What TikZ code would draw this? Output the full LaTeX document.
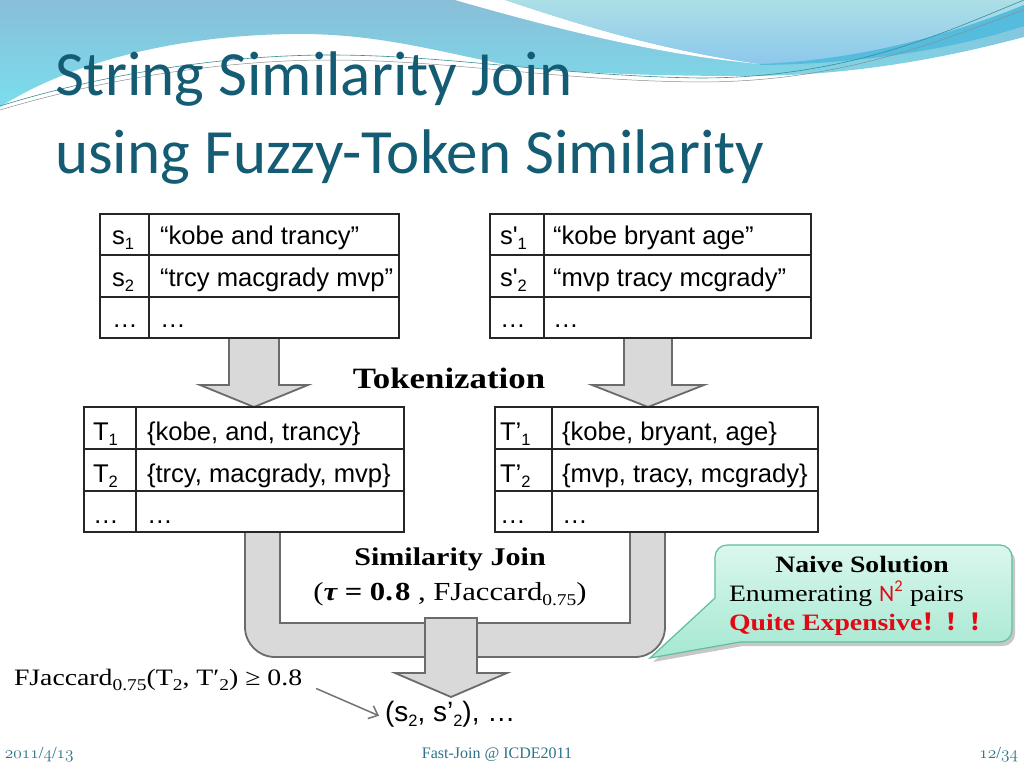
\documentclass[tikz,border=0pt]{standalone}
\usepackage{fontspec}
\setmainfont{Liberation Serif}
\newfontfamily\arial{Liberation Sans}
\newfontfamily\titlef{Carlito}
\newfontfamily\camb[FakeStretch=1.18]{Liberation Serif}
\newfontfamily\cjk{Noto Sans CJK SC}
\usetikzlibrary{arrows.meta}
\definecolor{titlecol}{RGB}{20,92,115}
\definecolor{footcol}{RGB}{45,115,135}
\definecolor{bandtop}{RGB}{137,190,216}
\definecolor{bandbot}{RGB}{122,222,236}
\definecolor{paletop}{RGB}{172,223,230}
\definecolor{palebot}{RGB}{140,200,236}
\definecolor{midband}{RGB}{85,188,222}
\definecolor{wline}{RGB}{60,140,150}
\definecolor{qred}{RGB}{225,10,20}
\definecolor{mintT}{RGB}{218,247,236}
\definecolor{mintB}{RGB}{165,232,210}
\definecolor{mintD}{RGB}{95,190,160}
\newcommand\tsub[1]{\raisebox{-5pt}{\fontsize{16.5}{16.5}\selectfont #1}}
\newcommand\msub[1]{\raisebox{-5pt}{\fontsize{16.5}{16.5}\selectfont #1}}
\newcommand\osn[1]{$\mathnormal{#1}$}
\tikzset{
  tline/.style={draw=black!85,line width=1.3pt},
  ttext/.style={anchor=base west,font=\arial\fontsize{25.6}{30}\selectfont},
  blockarrow/.style={fill=black!15,draw=black!58,line width=1.8pt,line join=miter},
  serif/.style={font=\camb\fontsize{23.5}{26}\selectfont}
}
\begin{document}
\begin{tikzpicture}[x=1pt,y=-1pt,every node/.style={inner sep=0pt,outer sep=0pt}]
\useasboundingbox (0,0) rectangle (1024,768);
\fill[white] (0,0) rectangle (1024,768);
% ---------- header decoration ----------
\shade[top color=bandtop,bottom color=bandbot]
  (0,0) -- (1024,0) -- (1024,37) .. controls (930,62) and (840,76) .. (745,76)
  .. controls (640,76) and (560,72) .. (512,66)
  .. controls (440,52) and (380,34) .. (300,34)
  .. controls (180,34) and (70,62) .. (0,107) -- cycle;
\fill[white] (455,0) .. controls (560,30) and (660,55) .. (760,64)
  .. controls (660,50) and (580,25) .. (505,0) -- cycle;
\shade[top color=paletop,bottom color=palebot]
  (505,0) .. controls (580,25) and (660,50) .. (760,64)
  .. controls (860,60) and (950,35) .. (1024,5) -- (1024,0) -- cycle;
\fill[midband] (760,64) .. controls (860,60) and (950,35) .. (1024,5)
  -- (1024,26) .. controls (950,50) and (860,64) .. (760,65) -- cycle;
\draw[wline,line width=0.6pt] (0,106) .. controls (100,75) and (220,55) .. (330,55)
  .. controls (450,55) and (560,76) .. (700,78) .. controls (850,78) and (950,30) .. (1024,0);
\draw[black!45,line width=0.5pt] (0,110) .. controls (100,80) and (220,60) .. (330,60)
  .. controls (450,60) and (560,81) .. (700,82) .. controls (850,82) and (950,36) .. (1024,10);
% ---------- title ----------
\node[anchor=base west,text=titlecol,font=\titlef\fontsize{63}{63}\selectfont] (t1) at (55,95) {String Similarity Join};
\node[anchor=base west,text=titlecol,font=\titlef\fontsize{63}{63}\selectfont] (t2) at (55,173) {using Fuzzy-Token Similarity};
% ---------- big U arrow ----------
\draw[blockarrow] (245,530) -- (245,627) .. controls (245,643.6) and (258.4,657) .. (275,657)
  -- (635,657) .. controls (651.6,657) and (665,643.6) .. (665,627)
  -- (665,530) -- (630,530) -- (630,623) -- (280,623) -- (280,530) -- cycle;
\draw[blockarrow] (425,618) -- (477,618) -- (477,673) -- (507,673) -- (451,697)
  -- (395,673) -- (425,673) -- cycle;
% ---------- top arrows ----------
\draw[blockarrow] (229,338) -- (279,338) -- (279,385) -- (308,385) -- (254,407)
  -- (200,385) -- (229,385) -- cycle;
\draw[blockarrow] (624,338) -- (672,338) -- (672,385) -- (704,385) -- (648,407)
  -- (592,385) -- (624,385) -- cycle;
% ---------- tables ----------
\draw[tline,fill=white] (100,214) rectangle (399,338);
\draw[tline] (100,255) -- (399,255) (100,297) -- (399,297) (149,214) -- (149,338);
\draw[tline,fill=white] (490,214) rectangle (811,338);
\draw[tline] (490,255) -- (811,255) (490,297) -- (811,297) (544,214) -- (544,338);
\draw[tline,fill=white] (84,407) rectangle (404,532);
\draw[tline] (84,449) -- (404,449) (84,491) -- (404,491) (136,407) -- (136,532);
\draw[tline,fill=white] (495,407) rectangle (818,532);
\draw[tline] (495,449) -- (818,449) (495,491) -- (818,491) (552,407) -- (552,532);
% table texts
\node[ttext] (s1) at (112,244) {s\tsub{1}};
\node[ttext] (s1v) at (160,244) {“kobe and trancy”};
\node[ttext] (s2) at (112,286) {s\tsub{2}};
\node[ttext] (s2v) at (160,286) {“trcy macgrady mvp”};
\node[ttext] (sd) at (112,327) {…};
\node[ttext] (sdv) at (160,327) {…};
\node[ttext] (p1) at (500,244) {s'\tsub{1}};
\node[ttext] (p1v) at (553,244) {“kobe bryant age”};
\node[ttext] (p2) at (500,286) {s'\tsub{2}};
\node[ttext] (p2v) at (553,286) {“mvp tracy mcgrady”};
\node[ttext] (pd) at (500,327) {…};
\node[ttext] (pdv) at (553,327) {…};
\node[ttext] (T1) at (93,440) {T\tsub{1}};
\node[ttext] (T1v) at (147,440) {\{kobe, and, trancy\}};
\node[ttext] (T2) at (93,482) {T\tsub{2}};
\node[ttext] (T2v) at (147,482) {\{trcy, macgrady, mvp\}};
\node[ttext] (Td) at (93,523) {…};
\node[ttext] (Tdv) at (147,523) {…};
\node[ttext] (U1) at (500,440) {T’\tsub{1}};
\node[ttext] (U1v) at (562,440) {\{kobe, bryant, age\}};
\node[ttext] (U2) at (500,482) {T’\tsub{2}};
\node[ttext] (U2v) at (562,482) {\{mvp, tracy, mcgrady\}};
\node[ttext] (Ud) at (500,523) {…};
\node[ttext] (Udv) at (562,523) {…};
% ---------- labels ----------
\node[anchor=base,font=\camb\bfseries\fontsize{29.5}{30}\selectfont] (tok) at (449,388) {Tokenization};
\node[anchor=base,font=\camb\bfseries\fontsize{25.5}{26}\selectfont] (sj) at (450,565) {Similarity Join};
\node[anchor=base,font=\camb\fontsize{26}{28}\selectfont] (sj2) at (450,600) {({\bfseries\itshape τ} {\bfseries = 0.\kern2pt8} , FJaccard\msub{0.75})};
% ---------- callout ----------
\draw[top color=mintT,bottom color=mintB,draw=mintD,line width=1.2pt,
      preaction={fill=black,fill opacity=0.22,transform canvas={xshift=3pt,yshift=-4pt}}]
  (727,545) -- (1000,545) .. controls (1006.6,545) and (1012,550.4) .. (1012,557)
  -- (1012,630) .. controls (1012,636.6) and (1006.6,642) .. (1000,642)
  -- (740,642) -- (650,658) -- (715,598) -- (715,557)
  .. controls (715,550.4) and (720.4,545) .. (727,545) -- cycle;
\node[anchor=base,font=\camb\bfseries\fontsize{23.5}{26}\selectfont] (ns) at (862,572) {Naive Solution};
\node[anchor=base west,serif] (en) at (729,601) {Enumerating {\color{qred}\titlef N\textsuperscript{2}} pairs};
\node[anchor=base west,font=\camb\bfseries\fontsize{23.5}{26}\selectfont,text=qred] (qe) at (729,630) {Quite Expensive{\cjk ！！！}};
% ---------- result ----------
\node[anchor=base west,serif] (fj) at (14,685) {FJaccard\msub{0.75}(T\msub{2}, T′\msub{2}) ≥ 0.8};
\node[anchor=base west,font=\arial\fontsize{28}{30}\selectfont] (res) at (385,721) {(s\tsub{2}, s’\tsub{2}), …};
\draw[black!55,line width=1.5pt,-{Straight Barb[length=8pt,width=14pt]}]
  ([shift={(14,9)}]fj.east) -- ([shift={(-6,2)}]res.west);
% ---------- footer ----------
\node[anchor=base west,text=footcol,font=\rmfamily\fontsize{17}{17}\selectfont] (date) at (5,758) {\osn{2011}/\osn{4}/\osn{13}};
\node[anchor=base,text=footcol,font=\rmfamily\fontsize{16}{16}\selectfont] (foot) at (497,758) {Fast-Join @ ICDE2011};
\node[anchor=base east,text=footcol,font=\rmfamily\fontsize{17}{17}\selectfont] (pg) at (1018,758) {\osn{12}/\osn{34}};
\end{tikzpicture}
\end{document}
